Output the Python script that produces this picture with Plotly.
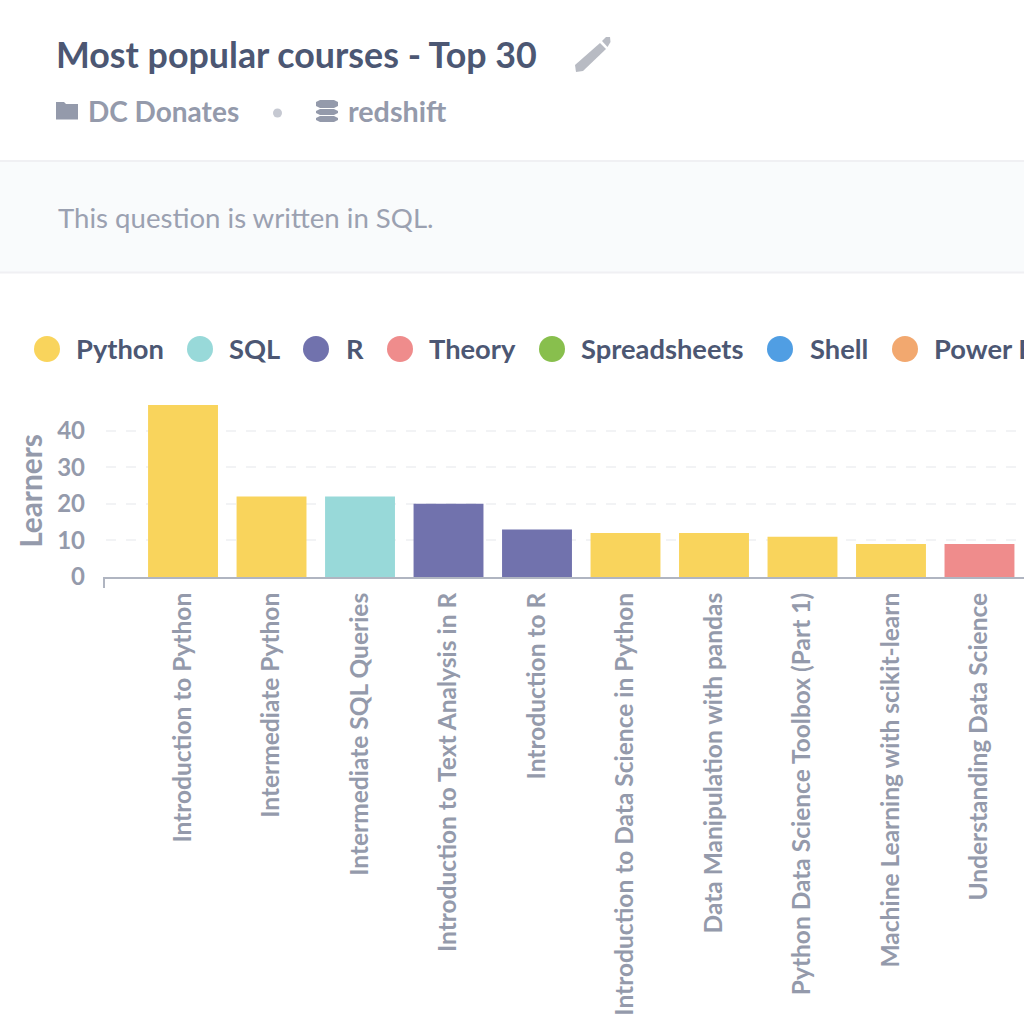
import plotly.graph_objects as go

courses = ["Introduction to Python", "Intermediate Python", "Intermediate SQL Queries",
           "Introduction to Text Analysis in R", "Introduction to R",
           "Introduction to Data Science in Python", "Data Manipulation with pandas",
           "Python Data Science Toolbox (Part 1)", "Machine Learning with scikit-learn",
           "Understanding Data Science"]
learners = [47, 22, 22, 20, 13, 12, 12, 11, 9, 9]
topics = ["Python", "Python", "SQL", "R", "R", "Python", "Python", "Python", "Python", "Theory"]

legend_names = ["Python", "SQL", "R", "Theory", "Spreadsheets", "Shell", "Power BI"]
legend_colors = ["#F9D45C", "#98D9D9", "#7172AD", "#EF8C8C", "#88BF4D", "#509EE3", "#F2A86F"]
legend_dot_x = [47, 200, 316, 400, 552, 780, 905]
legend_text_x = [74, 227, 344, 427, 579, 808, 932]

W, H = 1024, 1036
ML, MR, MT, MB = 104, 0, 405, 459
DARK = "#4C5773"
GREY = "#949AAB"
FONT = "Lato"


def px(x):
    return (x - ML) / (W - ML - MR)


def py(y):
    return (H - MB - y) / (H - MT - MB)


def path(points):
    out = []
    for cmd, *vals in points:
        coords = [f"{px(vals[i])},{py(vals[i + 1])}" for i in range(0, len(vals), 2)]
        out.append(cmd + " ".join(coords))
    return " ".join(out) + " Z"


color_of = dict(zip(legend_names, legend_colors))
fig = go.Figure()
for name in legend_names:
    xs = [c for c, t in zip(courses, topics) if t == name]
    ys = [v for v, t in zip(learners, topics) if t == name]
    if xs:
        fig.add_bar(x=xs, y=ys, name=name, width=0.79, marker=dict(color=color_of[name], line=dict(width=0)),
                    showlegend=False)

shapes = [
    dict(type="rect", xref="paper", yref="paper", x0=px(0), x1=px(W), y0=py(161), y1=py(272),
         fillcolor="#F9FBFC", line=dict(width=0), layer="below"),
    dict(type="line", xref="paper", yref="paper", x0=px(0), x1=px(W), y0=py(161), y1=py(161),
         line=dict(color="#F0F0F3", width=2), layer="below"),
    dict(type="line", xref="paper", yref="paper", x0=px(0), x1=px(W), y0=py(272.5), y1=py(272.5),
         line=dict(color="#F0F0F3", width=2), layer="below"),
    dict(type="line", xref="paper", yref="paper", x0=px(104), x1=px(104), y0=py(577), y1=py(588),
         line=dict(color="#B0B5C1", width=2)),
    # dot separator
    dict(type="circle", xref="paper", yref="paper", x0=px(273), x1=px(282), y0=py(108.5), y1=py(117.5),
         fillcolor="#C6C9D2", line=dict(width=0)),
    # folder
    dict(type="path", xref="paper", yref="paper", fillcolor=GREY, line=dict(width=0),
         path=path([("M", 56, 102), ("L", 64, 102), ("L", 66, 104), ("L", 78, 104), ("L", 78, 119.5), ("L", 56, 119.5)])),
    # pencil
    dict(type="path", xref="paper", yref="paper", fillcolor="#B8BBC3", line=dict(width=0),
         path=path([("M", 600, 43), ("L", 606, 49), ("L", 583, 71), ("L", 576, 72), ("L", 575, 65)])),
    dict(type="path", xref="paper", yref="paper", fillcolor="#B8BBC3", line=dict(width=0),
         path=path([("M", 602, 41), ("L", 606, 37), ("L", 610, 37), ("L", 610.5, 42), ("L", 607.5, 47)])),
]
# database icon: three stacked discs
for top, bottom in [(100, 108), (109, 115), (116, 122)]:
    shapes.append(dict(type="path", xref="paper", yref="paper", fillcolor=GREY, line=dict(width=0),
                       path=path([("M", 316, top + 2), ("L", 320, top), ("L", 334, top), ("L", 338, top + 2),
                                  ("L", 338, bottom - 2), ("L", 334, bottom), ("L", 320, bottom), ("L", 316, bottom - 2)])))
for x, color in zip(legend_dot_x, legend_colors):
    shapes.append(dict(type="circle", xref="paper", yref="paper", x0=px(x - 13), x1=px(x + 13),
                       y0=py(336), y1=py(362), fillcolor=color, line=dict(width=0)))


def note(text, x, y, size, color, weight=400):
    return dict(text=text, xref="paper", yref="paper", x=px(x), y=py(y), xanchor="left", yanchor="middle",
                showarrow=False, font=dict(family=FONT, size=size, color=color, weight=weight), align="left")


annotations = [
    note("Most popular courses - Top 30", 54, 54, 35.8, DARK, 700),
    note("DC Donates", 86, 111, 28, GREY, 700),
    note("redshift", 346, 111, 28.7, GREY, 700),
    note("This question is written in SQL.", 56, 218, 27.6, "#9BA1B1", 400),
]
for name, x in zip(legend_names, legend_text_x):
    annotations.append(note(name, x, 348, 27.3, DARK, 700))

fig.update_layout(
    width=W, height=H, autosize=False,
    margin=dict(l=ML, r=MR, t=MT, b=MB, pad=0),
    paper_bgcolor="white", plot_bgcolor="white",
    barmode="overlay", showlegend=False,
    shapes=shapes, annotations=annotations,
    xaxis=dict(type="category", categoryorder="array", categoryarray=courses, range=[-0.893, 9.503],
               tickangle=-90, showgrid=False, ticks="", showline=True, linecolor="#B0B5C1", linewidth=2,
               ticklabelstandoff=4, automargin=False, zeroline=False,
               tickfont=dict(family=FONT, size=24.5, color=GREY, weight=700)),
    yaxis=dict(range=[0, 47], tickvals=[0, 10, 20, 30, 40], showgrid=True, gridcolor="#F2F3F5", gridwidth=2,
               griddash="0px,2px,10px,8px", zeroline=False, showline=False, ticks="", ticklabelstandoff=18,
               automargin=False, tickfont=dict(family=FONT, size=24, color=GREY, weight=700),
               title=dict(text="Learners", standoff=5, font=dict(family=FONT, size=29.8, color=GREY, weight=700))),
)

fig.write_html("out.html", config=dict(displayModeBar=False),
               post_script="document.body.style.margin='0';document.documentElement.style.overflow='hidden';")
